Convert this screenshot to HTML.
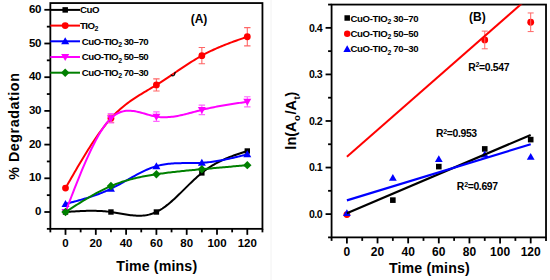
<!DOCTYPE html>
<html><head><meta charset="utf-8"><style>
html,body{margin:0;padding:0;background:#fff;width:550px;height:280px;overflow:hidden}
svg{display:block}
text{font-family:"Liberation Sans", sans-serif;fill:#000}
</style></head><body>
<svg width="550" height="280" viewBox="0 0 550 280">
<rect x="50.35" y="3.06" width="212.10" height="225.79" fill="none" stroke="#000" stroke-width="1.8"/>
<line x1="46.85" y1="228.85" x2="50.35" y2="228.85" stroke="#000" stroke-width="1.8"/>
<line x1="44.35" y1="212.00" x2="50.35" y2="212.00" stroke="#000" stroke-width="1.8"/>
<text x="41.15" y="215.00" text-anchor="end" font-size="11.5" font-weight="bold" letter-spacing="-0.3">0</text>
<line x1="46.85" y1="195.15" x2="50.35" y2="195.15" stroke="#000" stroke-width="1.8"/>
<line x1="44.35" y1="178.30" x2="50.35" y2="178.30" stroke="#000" stroke-width="1.8"/>
<text x="41.15" y="181.30" text-anchor="end" font-size="11.5" font-weight="bold" letter-spacing="-0.3">10</text>
<line x1="46.85" y1="161.45" x2="50.35" y2="161.45" stroke="#000" stroke-width="1.8"/>
<line x1="44.35" y1="144.60" x2="50.35" y2="144.60" stroke="#000" stroke-width="1.8"/>
<text x="41.15" y="147.60" text-anchor="end" font-size="11.5" font-weight="bold" letter-spacing="-0.3">20</text>
<line x1="46.85" y1="127.75" x2="50.35" y2="127.75" stroke="#000" stroke-width="1.8"/>
<line x1="44.35" y1="110.90" x2="50.35" y2="110.90" stroke="#000" stroke-width="1.8"/>
<text x="41.15" y="113.90" text-anchor="end" font-size="11.5" font-weight="bold" letter-spacing="-0.3">30</text>
<line x1="46.85" y1="94.05" x2="50.35" y2="94.05" stroke="#000" stroke-width="1.8"/>
<line x1="44.35" y1="77.20" x2="50.35" y2="77.20" stroke="#000" stroke-width="1.8"/>
<text x="41.15" y="80.20" text-anchor="end" font-size="11.5" font-weight="bold" letter-spacing="-0.3">40</text>
<line x1="46.85" y1="60.35" x2="50.35" y2="60.35" stroke="#000" stroke-width="1.8"/>
<line x1="44.35" y1="43.50" x2="50.35" y2="43.50" stroke="#000" stroke-width="1.8"/>
<text x="41.15" y="46.50" text-anchor="end" font-size="11.5" font-weight="bold" letter-spacing="-0.3">50</text>
<line x1="46.85" y1="26.65" x2="50.35" y2="26.65" stroke="#000" stroke-width="1.8"/>
<line x1="44.35" y1="9.80" x2="50.35" y2="9.80" stroke="#000" stroke-width="1.8"/>
<text x="41.15" y="12.80" text-anchor="end" font-size="11.5" font-weight="bold" letter-spacing="-0.3">60</text>
<line x1="50.35" y1="228.85" x2="50.35" y2="232.35" stroke="#000" stroke-width="1.8"/>
<line x1="65.50" y1="228.85" x2="65.50" y2="234.85" stroke="#000" stroke-width="1.8"/>
<text x="65.50" y="247.00" text-anchor="middle" font-size="11.5" font-weight="bold">0</text>
<line x1="80.65" y1="228.85" x2="80.65" y2="232.35" stroke="#000" stroke-width="1.8"/>
<line x1="95.80" y1="228.85" x2="95.80" y2="234.85" stroke="#000" stroke-width="1.8"/>
<text x="95.80" y="247.00" text-anchor="middle" font-size="11.5" font-weight="bold">20</text>
<line x1="110.95" y1="228.85" x2="110.95" y2="232.35" stroke="#000" stroke-width="1.8"/>
<line x1="126.10" y1="228.85" x2="126.10" y2="234.85" stroke="#000" stroke-width="1.8"/>
<text x="126.10" y="247.00" text-anchor="middle" font-size="11.5" font-weight="bold">40</text>
<line x1="141.25" y1="228.85" x2="141.25" y2="232.35" stroke="#000" stroke-width="1.8"/>
<line x1="156.40" y1="228.85" x2="156.40" y2="234.85" stroke="#000" stroke-width="1.8"/>
<text x="156.40" y="247.00" text-anchor="middle" font-size="11.5" font-weight="bold">60</text>
<line x1="171.55" y1="228.85" x2="171.55" y2="232.35" stroke="#000" stroke-width="1.8"/>
<line x1="186.70" y1="228.85" x2="186.70" y2="234.85" stroke="#000" stroke-width="1.8"/>
<text x="186.70" y="247.00" text-anchor="middle" font-size="11.5" font-weight="bold">80</text>
<line x1="201.85" y1="228.85" x2="201.85" y2="232.35" stroke="#000" stroke-width="1.8"/>
<line x1="217.00" y1="228.85" x2="217.00" y2="234.85" stroke="#000" stroke-width="1.8"/>
<text x="217.00" y="247.00" text-anchor="middle" font-size="11.5" font-weight="bold">100</text>
<line x1="232.15" y1="228.85" x2="232.15" y2="232.35" stroke="#000" stroke-width="1.8"/>
<line x1="247.30" y1="228.85" x2="247.30" y2="234.85" stroke="#000" stroke-width="1.8"/>
<text x="247.30" y="247.00" text-anchor="middle" font-size="11.5" font-weight="bold">120</text>
<line x1="262.45" y1="228.85" x2="262.45" y2="232.35" stroke="#000" stroke-width="1.8"/>
<text x="156.8" y="271.4" text-anchor="middle" font-size="14.2" font-weight="bold" letter-spacing="0.14">Time (mins)</text>
<text transform="translate(18.9,126.2) rotate(-90)" text-anchor="middle" font-size="14.3" font-weight="bold" letter-spacing="0.55">% Degradation</text>
<text x="199" y="22.8" text-anchor="middle" font-size="12" font-weight="bold">(A)</text>
<path d="M65.50,212.00 L67.02,211.90 L68.53,211.79 L70.05,211.69 L71.56,211.59 L73.08,211.50 L74.59,211.40 L76.11,211.32 L77.62,211.23 L79.14,211.15 L80.65,211.08 L82.16,211.02 L83.68,210.96 L85.19,210.91 L86.71,210.87 L88.22,210.84 L89.74,210.82 L91.25,210.81 L92.77,210.81 L94.28,210.82 L95.80,210.85 L97.31,210.89 L98.83,210.95 L100.34,211.02 L101.86,211.11 L103.38,211.21 L104.89,211.33 L106.41,211.47 L107.92,211.63 L109.44,211.80 L110.95,212.00 L112.47,212.22 L113.98,212.45 L115.50,212.70 L117.01,212.96 L118.53,213.22 L120.04,213.49 L121.56,213.76 L123.07,214.02 L124.58,214.28 L126.10,214.53 L127.61,214.76 L129.13,214.98 L130.64,215.17 L132.16,215.34 L133.68,215.49 L135.19,215.60 L136.70,215.68 L138.22,215.72 L139.74,215.72 L141.25,215.67 L142.76,215.58 L144.28,215.43 L145.80,215.23 L147.31,214.98 L148.82,214.65 L150.34,214.27 L151.85,213.81 L153.37,213.29 L154.88,212.68 L156.40,212.00 L157.91,211.24 L159.43,210.39 L160.94,209.48 L162.46,208.49 L163.97,207.44 L165.49,206.33 L167.00,205.16 L168.52,203.95 L170.03,202.68 L171.55,201.37 L173.06,200.02 L174.58,198.64 L176.09,197.23 L177.61,195.79 L179.12,194.33 L180.64,192.85 L182.15,191.37 L183.67,189.87 L185.19,188.37 L186.70,186.87 L188.21,185.38 L189.73,183.90 L191.25,182.43 L192.76,180.98 L194.28,179.55 L195.79,178.15 L197.30,176.78 L198.82,175.45 L200.33,174.16 L201.85,172.91 L203.36,171.71 L204.88,170.56 L206.39,169.45 L207.91,168.39 L209.42,167.37 L210.94,166.40 L212.45,165.46 L213.97,164.56 L215.48,163.70 L217.00,162.87 L218.51,162.07 L220.03,161.31 L221.54,160.57 L223.06,159.86 L224.57,159.18 L226.09,158.53 L227.60,157.89 L229.12,157.28 L230.63,156.69 L232.15,156.11 L233.66,155.56 L235.18,155.01 L236.69,154.48 L238.21,153.96 L239.72,153.46 L241.24,152.96 L242.75,152.46 L244.27,151.97 L245.78,151.49 L247.30,151.00" fill="none" stroke="#000000" stroke-width="2.00"/>
<rect x="62.80" y="209.30" width="5.40" height="5.40" fill="#000000"/>
<rect x="108.25" y="209.30" width="5.40" height="5.40" fill="#000000"/>
<rect x="153.70" y="209.30" width="5.40" height="5.40" fill="#000000"/>
<rect x="199.15" y="170.21" width="5.40" height="5.40" fill="#000000"/>
<rect x="244.60" y="148.30" width="5.40" height="5.40" fill="#000000"/>
<path d="M65.50,188.07 L67.02,185.43 L68.53,182.78 L70.05,180.14 L71.56,177.51 L73.08,174.88 L74.59,172.27 L76.11,169.67 L77.62,167.08 L79.14,164.51 L80.65,161.96 L82.16,159.43 L83.68,156.93 L85.19,154.45 L86.71,152.00 L88.22,149.58 L89.74,147.19 L91.25,144.83 L92.77,142.51 L94.28,140.23 L95.80,137.99 L97.31,135.80 L98.83,133.65 L100.34,131.54 L101.86,129.49 L103.38,127.48 L104.89,125.53 L106.41,123.64 L107.92,121.80 L109.44,120.03 L110.95,118.31 L112.47,116.66 L113.98,115.07 L115.50,113.54 L117.01,112.07 L118.53,110.65 L120.04,109.28 L121.56,107.96 L123.07,106.69 L124.58,105.46 L126.10,104.27 L127.61,103.12 L129.13,102.00 L130.64,100.92 L132.16,99.86 L133.68,98.84 L135.19,97.83 L136.70,96.86 L138.22,95.90 L139.74,94.95 L141.25,94.03 L142.76,93.11 L144.28,92.20 L145.80,91.30 L147.31,90.40 L148.82,89.51 L150.34,88.61 L151.85,87.71 L153.37,86.80 L154.88,85.88 L156.40,84.95 L157.91,84.01 L159.43,83.05 L160.94,82.08 L162.46,81.10 L163.97,80.11 L165.49,79.11 L167.00,78.11 L168.52,77.09 L170.03,76.07 L171.55,75.05 L173.06,74.03 L174.58,73.00 L176.09,71.98 L177.61,70.95 L179.12,69.93 L180.64,68.91 L182.15,67.89 L183.67,66.88 L185.19,65.88 L186.70,64.88 L188.21,63.90 L189.73,62.92 L191.25,61.96 L192.76,61.01 L194.28,60.07 L195.79,59.15 L197.30,58.24 L198.82,57.35 L200.33,56.48 L201.85,55.63 L203.36,54.80 L204.88,53.99 L206.39,53.20 L207.91,52.43 L209.42,51.68 L210.94,50.95 L212.45,50.23 L213.97,49.53 L215.48,48.84 L217.00,48.17 L218.51,47.51 L220.03,46.87 L221.54,46.24 L223.06,45.62 L224.57,45.01 L226.09,44.41 L227.60,43.83 L229.12,43.25 L230.63,42.68 L232.15,42.11 L233.66,41.56 L235.18,41.01 L236.69,40.47 L238.21,39.93 L239.72,39.39 L241.24,38.86 L242.75,38.33 L244.27,37.81 L245.78,37.28 L247.30,36.76" fill="none" stroke="#ff0000" stroke-width="2.00"/>
<path d="M110.95 114.27 V122.36 M107.75 114.27 H114.15 M107.75 122.36 H114.15" stroke="#ff6666" stroke-width="1.1" fill="none"/>
<path d="M156.40 78.88 V91.02 M153.20 78.88 H159.60 M153.20 91.02 H159.60" stroke="#ff6666" stroke-width="1.1" fill="none"/>
<path d="M201.85 47.54 V63.72 M198.65 47.54 H205.05 M198.65 63.72 H205.05" stroke="#ff6666" stroke-width="1.1" fill="none"/>
<path d="M247.30 27.66 V45.86 M244.10 27.66 H250.50 M244.10 45.86 H250.50" stroke="#ff6666" stroke-width="1.1" fill="none"/>
<circle cx="65.50" cy="188.07" r="3.40" fill="#ff0000"/>
<circle cx="110.95" cy="118.31" r="3.40" fill="#ff0000"/>
<circle cx="156.40" cy="84.95" r="3.40" fill="#ff0000"/>
<circle cx="201.85" cy="55.63" r="3.40" fill="#ff0000"/>
<circle cx="247.30" cy="36.76" r="3.40" fill="#ff0000"/>
<path d="M65.50,203.91 L67.02,203.52 L68.53,203.13 L70.05,202.74 L71.56,202.34 L73.08,201.94 L74.59,201.54 L76.11,201.13 L77.62,200.72 L79.14,200.30 L80.65,199.88 L82.16,199.45 L83.68,199.00 L85.19,198.55 L86.71,198.09 L88.22,197.62 L89.74,197.14 L91.25,196.65 L92.77,196.14 L94.28,195.62 L95.80,195.08 L97.31,194.53 L98.83,193.96 L100.34,193.38 L101.86,192.77 L103.38,192.15 L104.89,191.51 L106.41,190.85 L107.92,190.17 L109.44,189.47 L110.95,188.75 L112.47,188.00 L113.98,187.23 L115.50,186.45 L117.01,185.64 L118.53,184.83 L120.04,184.00 L121.56,183.16 L123.07,182.31 L124.58,181.46 L126.10,180.61 L127.61,179.75 L129.13,178.90 L130.64,178.04 L132.16,177.20 L133.68,176.36 L135.19,175.53 L136.70,174.71 L138.22,173.91 L139.74,173.12 L141.25,172.35 L142.76,171.61 L144.28,170.88 L145.80,170.18 L147.31,169.51 L148.82,168.87 L150.34,168.25 L151.85,167.68 L153.37,167.13 L154.88,166.63 L156.40,166.17 L157.91,165.75 L159.43,165.37 L160.94,165.02 L162.46,164.72 L163.97,164.45 L165.49,164.21 L167.00,164.00 L168.52,163.82 L170.03,163.66 L171.55,163.53 L173.06,163.42 L174.58,163.33 L176.09,163.26 L177.61,163.20 L179.12,163.16 L180.64,163.13 L182.15,163.11 L183.67,163.10 L185.19,163.09 L186.70,163.09 L188.21,163.09 L189.73,163.09 L191.25,163.08 L192.76,163.07 L194.28,163.05 L195.79,163.03 L197.30,162.99 L198.82,162.94 L200.33,162.88 L201.85,162.80 L203.36,162.70 L204.88,162.58 L206.39,162.44 L207.91,162.29 L209.42,162.12 L210.94,161.94 L212.45,161.74 L213.97,161.52 L215.48,161.29 L217.00,161.05 L218.51,160.79 L220.03,160.53 L221.54,160.25 L223.06,159.96 L224.57,159.66 L226.09,159.35 L227.60,159.03 L229.12,158.70 L230.63,158.37 L232.15,158.03 L233.66,157.68 L235.18,157.33 L236.69,156.97 L238.21,156.61 L239.72,156.24 L241.24,155.87 L242.75,155.50 L244.27,155.12 L245.78,154.75 L247.30,154.37" fill="none" stroke="#0000ff" stroke-width="2.00"/>
<path d="M65.50 199.91 L69.50 206.91 L61.50 206.91 Z" fill="#0000ff"/>
<path d="M110.95 184.75 L114.95 191.75 L106.95 191.75 Z" fill="#0000ff"/>
<path d="M156.40 162.17 L160.40 169.17 L152.40 169.17 Z" fill="#0000ff"/>
<path d="M201.85 158.80 L205.85 165.80 L197.85 165.80 Z" fill="#0000ff"/>
<path d="M247.30 150.37 L251.30 157.37 L243.30 157.37 Z" fill="#0000ff"/>
<path d="M65.50,212.00 L67.02,208.05 L68.53,204.10 L70.05,200.16 L71.56,196.24 L73.08,192.34 L74.59,188.47 L76.11,184.63 L77.62,180.83 L79.14,177.07 L80.65,173.37 L82.16,169.72 L83.68,166.13 L85.19,162.61 L86.71,159.16 L88.22,155.79 L89.74,152.50 L91.25,149.30 L92.77,146.20 L94.28,143.19 L95.80,140.29 L97.31,137.50 L98.83,134.83 L100.34,132.28 L101.86,129.86 L103.38,127.57 L104.89,125.42 L106.41,123.41 L107.92,121.55 L109.44,119.85 L110.95,118.31 L112.47,116.94 L113.98,115.72 L115.50,114.66 L117.01,113.74 L118.53,112.96 L120.04,112.30 L121.56,111.77 L123.07,111.36 L124.58,111.05 L126.10,110.85 L127.61,110.73 L129.13,110.71 L130.64,110.76 L132.16,110.89 L133.68,111.07 L135.19,111.32 L136.70,111.61 L138.22,111.95 L139.74,112.32 L141.25,112.72 L142.76,113.14 L144.28,113.58 L145.80,114.01 L147.31,114.45 L148.82,114.88 L150.34,115.29 L151.85,115.68 L153.37,116.04 L154.88,116.36 L156.40,116.63 L157.91,116.85 L159.43,117.02 L160.94,117.15 L162.46,117.22 L163.97,117.26 L165.49,117.25 L167.00,117.20 L168.52,117.11 L170.03,116.99 L171.55,116.83 L173.06,116.64 L174.58,116.42 L176.09,116.18 L177.61,115.91 L179.12,115.61 L180.64,115.30 L182.15,114.97 L183.67,114.62 L185.19,114.25 L186.70,113.87 L188.21,113.49 L189.73,113.09 L191.25,112.69 L192.76,112.28 L194.28,111.88 L195.79,111.47 L197.30,111.07 L198.82,110.67 L200.33,110.27 L201.85,109.89 L203.36,109.52 L204.88,109.15 L206.39,108.80 L207.91,108.46 L209.42,108.12 L210.94,107.80 L212.45,107.48 L213.97,107.18 L215.48,106.88 L217.00,106.58 L218.51,106.30 L220.03,106.02 L221.54,105.75 L223.06,105.49 L224.57,105.23 L226.09,104.98 L227.60,104.73 L229.12,104.48 L230.63,104.25 L232.15,104.01 L233.66,103.78 L235.18,103.55 L236.69,103.33 L238.21,103.10 L239.72,102.88 L241.24,102.66 L242.75,102.45 L244.27,102.23 L245.78,102.02 L247.30,101.80" fill="none" stroke="#ff00ff" stroke-width="2.00"/>
<path d="M110.95 113.60 V123.03 M107.75 113.60 H114.15 M107.75 123.03 H114.15" stroke="#ff66ff" stroke-width="1.1" fill="none"/>
<path d="M156.40 111.91 V121.35 M153.20 111.91 H159.60 M153.20 121.35 H159.60" stroke="#ff66ff" stroke-width="1.1" fill="none"/>
<path d="M201.85 105.17 V114.61 M198.65 105.17 H205.05 M198.65 114.61 H205.05" stroke="#ff66ff" stroke-width="1.1" fill="none"/>
<path d="M247.30 96.75 V106.86 M244.10 96.75 H250.50 M244.10 106.86 H250.50" stroke="#ff66ff" stroke-width="1.1" fill="none"/>
<path d="M65.50 216.00 L69.50 209.00 L61.50 209.00 Z" fill="#ff00ff"/>
<path d="M110.95 122.31 L114.95 115.31 L106.95 115.31 Z" fill="#ff00ff"/>
<path d="M156.40 120.63 L160.40 113.63 L152.40 113.63 Z" fill="#ff00ff"/>
<path d="M201.85 113.89 L205.85 106.89 L197.85 106.89 Z" fill="#ff00ff"/>
<path d="M247.30 105.80 L251.30 98.80 L243.30 98.80 Z" fill="#ff00ff"/>
<path d="M65.50,212.00 L67.02,211.02 L68.53,210.05 L70.05,209.08 L71.56,208.10 L73.08,207.14 L74.59,206.17 L76.11,205.21 L77.62,204.26 L79.14,203.31 L80.65,202.36 L82.16,201.43 L83.68,200.50 L85.19,199.58 L86.71,198.68 L88.22,197.78 L89.74,196.89 L91.25,196.02 L92.77,195.15 L94.28,194.30 L95.80,193.47 L97.31,192.65 L98.83,191.84 L100.34,191.05 L101.86,190.28 L103.38,189.53 L104.89,188.79 L106.41,188.08 L107.92,187.38 L109.44,186.71 L110.95,186.05 L112.47,185.42 L113.98,184.81 L115.50,184.22 L117.01,183.65 L118.53,183.10 L120.04,182.57 L121.56,182.06 L123.07,181.57 L124.58,181.09 L126.10,180.64 L127.61,180.20 L129.13,179.77 L130.64,179.36 L132.16,178.97 L133.68,178.59 L135.19,178.22 L136.70,177.87 L138.22,177.53 L139.74,177.21 L141.25,176.89 L142.76,176.59 L144.28,176.29 L145.80,176.01 L147.31,175.73 L148.82,175.47 L150.34,175.21 L151.85,174.96 L153.37,174.72 L154.88,174.48 L156.40,174.26 L157.91,174.03 L159.43,173.81 L160.94,173.60 L162.46,173.39 L163.97,173.19 L165.49,172.99 L167.00,172.80 L168.52,172.61 L170.03,172.43 L171.55,172.25 L173.06,172.07 L174.58,171.90 L176.09,171.73 L177.61,171.56 L179.12,171.40 L180.64,171.24 L182.15,171.08 L183.67,170.92 L185.19,170.77 L186.70,170.62 L188.21,170.47 L189.73,170.33 L191.25,170.18 L192.76,170.04 L194.28,169.90 L195.79,169.76 L197.30,169.62 L198.82,169.48 L200.33,169.34 L201.85,169.20 L203.36,169.06 L204.88,168.93 L206.39,168.79 L207.91,168.65 L209.42,168.52 L210.94,168.38 L212.45,168.24 L213.97,168.11 L215.48,167.97 L217.00,167.84 L218.51,167.70 L220.03,167.57 L221.54,167.43 L223.06,167.30 L224.57,167.16 L226.09,167.03 L227.60,166.89 L229.12,166.76 L230.63,166.63 L232.15,166.49 L233.66,166.36 L235.18,166.22 L236.69,166.09 L238.21,165.96 L239.72,165.82 L241.24,165.69 L242.75,165.56 L244.27,165.42 L245.78,165.29 L247.30,165.16" fill="none" stroke="#008000" stroke-width="2.00"/>
<path d="M65.50 207.80 L69.70 212.00 L65.50 216.20 L61.30 212.00 Z" fill="#008000"/>
<path d="M110.95 181.85 L115.15 186.05 L110.95 190.25 L106.75 186.05 Z" fill="#008000"/>
<path d="M156.40 170.06 L160.60 174.26 L156.40 178.46 L152.20 174.26 Z" fill="#008000"/>
<path d="M201.85 165.00 L206.05 169.20 L201.85 173.40 L197.65 169.20 Z" fill="#008000"/>
<path d="M247.30 160.96 L251.50 165.16 L247.30 169.36 L243.10 165.16 Z" fill="#008000"/>
<path d="M170.8 74.6 Q173 76.8 174.4 75 L175.3 71.8" stroke="#000" stroke-width="1.2" fill="none"/>
<line x1="50.35" y1="9.90" x2="80" y2="9.90" stroke="#000000" stroke-width="2"/>
<rect x="62.45" y="7.15" width="5.50" height="5.50" fill="#000000"/>
<text x="79.9" y="13.10" font-size="9.7" font-weight="bold" letter-spacing="-0.45">CuO</text>
<line x1="50.35" y1="25.60" x2="80" y2="25.60" stroke="#ff0000" stroke-width="2"/>
<circle cx="65.20" cy="25.60" r="3.45" fill="#ff0000"/>
<text x="79.90" y="28.80" font-size="9.7" font-weight="bold" letter-spacing="-0.5">TIO<tspan font-size="7" dy="2.3">2</tspan><tspan dy="-2.3"></tspan></text>
<line x1="50.35" y1="41.30" x2="80" y2="41.30" stroke="#0000ff" stroke-width="2"/>
<path d="M65.20 37.25 L69.25 44.35 L61.15 44.35 Z" fill="#0000ff"/>
<text x="81.80" y="44.50" font-size="9.7" font-weight="bold" letter-spacing="-0.5">CuO-TIO<tspan font-size="7" dy="2.3">2</tspan><tspan dy="-2.3"> 30–70</tspan></text>
<line x1="50.35" y1="57.00" x2="80" y2="57.00" stroke="#ff00ff" stroke-width="2"/>
<path d="M65.20 61.05 L69.25 53.95 L61.15 53.95 Z" fill="#ff00ff"/>
<text x="81.80" y="60.20" font-size="9.7" font-weight="bold" letter-spacing="-0.5">CuO-TIO<tspan font-size="7" dy="2.3">2</tspan><tspan dy="-2.3"> 50–50</tspan></text>
<line x1="50.35" y1="72.70" x2="80" y2="72.70" stroke="#008000" stroke-width="2"/>
<path d="M65.20 68.45 L69.45 72.70 L65.20 76.95 L60.95 72.70 Z" fill="#008000"/>
<text x="81.80" y="75.90" font-size="9.7" font-weight="bold" letter-spacing="-0.5">CuO-TIO<tspan font-size="7" dy="2.3">2</tspan><tspan dy="-2.3"> 70–30</tspan></text>
<line x1="271" y1="0" x2="271" y2="280" stroke="#f2f2f2" stroke-width="1"/>
<rect x="331.58" y="4.58" width="214.44" height="232.80" fill="none" stroke="#000" stroke-width="1.8"/>
<line x1="328.08" y1="237.38" x2="331.58" y2="237.38" stroke="#000" stroke-width="1.8"/>
<line x1="325.58" y1="214.10" x2="331.58" y2="214.10" stroke="#000" stroke-width="1.8"/>
<text x="321.98" y="218.00" text-anchor="end" font-size="10.6" font-weight="bold" letter-spacing="-0.6">0.0</text>
<line x1="328.08" y1="190.82" x2="331.58" y2="190.82" stroke="#000" stroke-width="1.8"/>
<line x1="325.58" y1="167.54" x2="331.58" y2="167.54" stroke="#000" stroke-width="1.8"/>
<text x="321.98" y="171.44" text-anchor="end" font-size="10.6" font-weight="bold" letter-spacing="-0.6">0.1</text>
<line x1="328.08" y1="144.26" x2="331.58" y2="144.26" stroke="#000" stroke-width="1.8"/>
<line x1="325.58" y1="120.98" x2="331.58" y2="120.98" stroke="#000" stroke-width="1.8"/>
<text x="321.98" y="124.88" text-anchor="end" font-size="10.6" font-weight="bold" letter-spacing="-0.6">0.2</text>
<line x1="328.08" y1="97.70" x2="331.58" y2="97.70" stroke="#000" stroke-width="1.8"/>
<line x1="325.58" y1="74.42" x2="331.58" y2="74.42" stroke="#000" stroke-width="1.8"/>
<text x="321.98" y="78.32" text-anchor="end" font-size="10.6" font-weight="bold" letter-spacing="-0.6">0.3</text>
<line x1="328.08" y1="51.14" x2="331.58" y2="51.14" stroke="#000" stroke-width="1.8"/>
<line x1="325.58" y1="27.86" x2="331.58" y2="27.86" stroke="#000" stroke-width="1.8"/>
<text x="321.98" y="31.76" text-anchor="end" font-size="10.6" font-weight="bold" letter-spacing="-0.6">0.4</text>
<line x1="328.08" y1="4.58" x2="331.58" y2="4.58" stroke="#000" stroke-width="1.8"/>
<line x1="331.58" y1="237.38" x2="331.58" y2="240.88" stroke="#000" stroke-width="1.8"/>
<line x1="346.90" y1="237.38" x2="346.90" y2="243.38" stroke="#000" stroke-width="1.8"/>
<text x="346.90" y="255.90" text-anchor="middle" font-size="12" font-weight="bold">0</text>
<line x1="362.22" y1="237.38" x2="362.22" y2="240.88" stroke="#000" stroke-width="1.8"/>
<line x1="377.53" y1="237.38" x2="377.53" y2="243.38" stroke="#000" stroke-width="1.8"/>
<text x="377.53" y="255.90" text-anchor="middle" font-size="12" font-weight="bold">20</text>
<line x1="392.85" y1="237.38" x2="392.85" y2="240.88" stroke="#000" stroke-width="1.8"/>
<line x1="408.17" y1="237.38" x2="408.17" y2="243.38" stroke="#000" stroke-width="1.8"/>
<text x="408.17" y="255.90" text-anchor="middle" font-size="12" font-weight="bold">40</text>
<line x1="423.49" y1="237.38" x2="423.49" y2="240.88" stroke="#000" stroke-width="1.8"/>
<line x1="438.80" y1="237.38" x2="438.80" y2="243.38" stroke="#000" stroke-width="1.8"/>
<text x="438.80" y="255.90" text-anchor="middle" font-size="12" font-weight="bold">60</text>
<line x1="454.12" y1="237.38" x2="454.12" y2="240.88" stroke="#000" stroke-width="1.8"/>
<line x1="469.44" y1="237.38" x2="469.44" y2="243.38" stroke="#000" stroke-width="1.8"/>
<text x="469.44" y="255.90" text-anchor="middle" font-size="12" font-weight="bold">80</text>
<line x1="484.75" y1="237.38" x2="484.75" y2="240.88" stroke="#000" stroke-width="1.8"/>
<line x1="500.07" y1="237.38" x2="500.07" y2="243.38" stroke="#000" stroke-width="1.8"/>
<text x="500.07" y="255.90" text-anchor="middle" font-size="12" font-weight="bold">100</text>
<line x1="515.39" y1="237.38" x2="515.39" y2="240.88" stroke="#000" stroke-width="1.8"/>
<line x1="530.70" y1="237.38" x2="530.70" y2="243.38" stroke="#000" stroke-width="1.8"/>
<text x="530.70" y="255.90" text-anchor="middle" font-size="12" font-weight="bold">120</text>
<line x1="546.02" y1="237.38" x2="546.02" y2="240.88" stroke="#000" stroke-width="1.8"/>
<text x="429.4" y="273.2" text-anchor="middle" font-size="14.2" font-weight="bold" letter-spacing="0.14">Time (mins)</text>
<text x="477.4" y="21.3" text-anchor="middle" font-size="12" font-weight="bold">(B)</text>
<circle cx="346.90" cy="214.57" r="3.40" fill="#ff0000"/>
<circle cx="484.75" cy="39.97" r="3.40" fill="#ff0000"/>
<circle cx="530.70" cy="22.27" r="3.40" fill="#ff0000"/>
<path d="M484.75 31.12 V48.81 M481.75 31.12 H487.75 M481.75 48.81 H487.75" stroke="#ff6666" stroke-width="1" fill="none"/>
<path d="M530.70 12.96 V31.58 M527.70 12.96 H533.70 M527.70 31.58 H533.70" stroke="#ff6666" stroke-width="1" fill="none"/>
<rect x="390.05" y="197.33" width="5.60" height="5.60" fill="#000"/>
<rect x="436.00" y="163.81" width="5.60" height="5.60" fill="#000"/>
<rect x="481.95" y="146.12" width="5.60" height="5.60" fill="#000"/>
<rect x="527.90" y="136.80" width="5.60" height="5.60" fill="#000"/>
<path d="M346.90 209.27 L350.80 216.07 L343.00 216.07 Z" fill="#0000ff"/>
<path d="M392.85 173.88 L396.75 180.68 L388.95 180.68 Z" fill="#0000ff"/>
<path d="M438.80 155.26 L442.70 162.06 L434.90 162.06 Z" fill="#0000ff"/>
<path d="M484.75 150.60 L488.65 157.40 L480.85 157.40 Z" fill="#0000ff"/>
<path d="M530.70 152.93 L534.60 159.73 L526.80 159.73 Z" fill="#0000ff"/>
<defs><clipPath id="cb"><rect x="331.58" y="4.58" width="214.44" height="232.80"/></clipPath></defs>
<g clip-path="url(#cb)">
<line x1="346.90" y1="156.64" x2="546.02" y2="-17.68" stroke="#ff0000" stroke-width="2"/>
<line x1="346.90" y1="213.31" x2="530.70" y2="134.95" stroke="#000" stroke-width="2.2"/>
<line x1="346.90" y1="200.36" x2="530.70" y2="144.26" stroke="#0000ff" stroke-width="2.2"/>
</g>
<rect x="344.45" y="15.25" width="5.50" height="5.50" fill="#000"/>
<text x="350.5" y="21.50" font-size="9.6" font-weight="bold" letter-spacing="-0.35">CuO-TIO<tspan font-size="6.8" dy="2.2">2</tspan><tspan dy="-2.2"> 30–70</tspan></text>
<circle cx="347.20" cy="33.70" r="3.20" fill="#ff0000"/>
<text x="350.5" y="36.90" font-size="9.6" font-weight="bold" letter-spacing="-0.35">CuO-TIO<tspan font-size="6.8" dy="2.2">2</tspan><tspan dy="-2.2"> 50–50</tspan></text>
<path d="M347.20 45.30 L351.00 51.90 L343.40 51.90 Z" fill="#0000ff"/>
<text x="350.5" y="52.30" font-size="9.6" font-weight="bold" letter-spacing="-0.35">CuO-TIO<tspan font-size="6.8" dy="2.2">2</tspan><tspan dy="-2.2"> 70–30</tspan></text>
<text x="468.20" y="71.00" font-size="10.4" font-weight="bold" letter-spacing="-0.35">R<tspan font-size="7" dy="-3.6" dx="0.2">2</tspan><tspan dy="3.6">=0.547</tspan></text>
<text x="435.90" y="137.10" font-size="10.4" font-weight="bold" letter-spacing="-0.35">R<tspan font-size="7" dy="-3.6" dx="0.2">2</tspan><tspan dy="3.6">=0.953</tspan></text>
<text x="456.80" y="190.20" font-size="10.4" font-weight="bold" letter-spacing="-0.35">R<tspan font-size="7" dy="-3.6" dx="0.2">2</tspan><tspan dy="3.6">=0.697</tspan></text>
<text transform="translate(296,120.6) rotate(-90)" text-anchor="middle" font-size="14.5" font-weight="bold">ln(A<tspan font-size="9.5" dy="3.8" dx="0.5">o</tspan><tspan dy="-3.8" dx="0.6">/A</tspan><tspan font-size="9.5" dy="3.8" dx="0.5">t</tspan><tspan dy="-3.8">)</tspan></text>
</svg></body></html>
